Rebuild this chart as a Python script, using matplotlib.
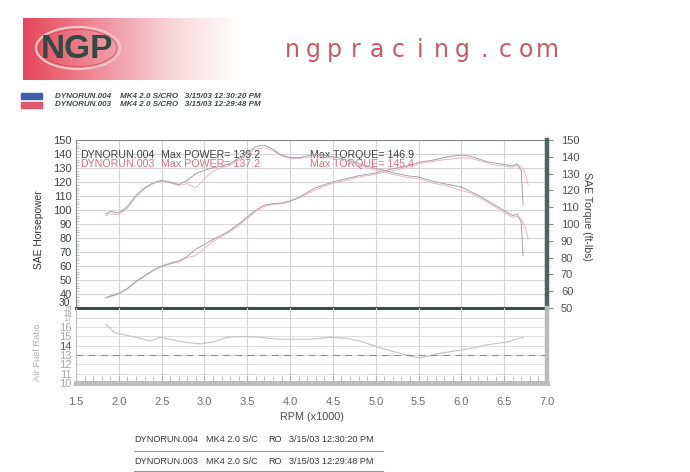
import numpy as np
import matplotlib
matplotlib.use("Agg")
import matplotlib.pyplot as plt
from matplotlib.colors import LinearSegmentedColormap
from matplotlib.patches import Ellipse, Rectangle

plt.rcParams['font.family'] = ['Liberation Sans', 'DejaVu Sans']

# run DYNORUN.004 (dark trace)
rpm_004 = [1.85, 1.9, 2.0, 2.1, 2.2, 2.3, 2.4, 2.5, 2.6, 2.7, 2.8, 2.9, 3.0, 3.1, 3.2, 3.3,
           3.4, 3.5, 3.6, 3.7, 3.8, 3.9, 4.0, 4.1, 4.2, 4.3, 4.4, 4.5, 4.6, 4.7, 4.8, 4.9,
           5.0, 5.1, 5.2, 5.3, 5.4, 5.5, 5.6, 5.7, 5.8, 5.9, 6.0, 6.1, 6.2, 6.3, 6.4, 6.5,
           6.6, 6.65, 6.7, 6.72]
hp_004 = [37.5, 38.5, 40.5, 44, 49, 53, 57, 60, 62, 63.5, 67, 72, 75.5, 79, 82, 85.5,
          90, 95, 100, 103.5, 104.5, 105, 106.5, 109, 112.5, 116, 118, 120, 121.5, 123, 124.5, 125.5,
          126.5, 128, 129.5, 130.5, 132, 134, 135, 136, 137.5, 138.5, 139.2, 138.5, 136.5, 134.5, 133.5, 132.5,
          131.5, 133, 128, 104]
tq_004 = [106, 107.5, 106.5, 110.5, 117, 121.5, 124.5, 126, 125, 123.5, 126, 130, 132, 133.5, 134.5, 136,
          139, 142.5, 146, 146.9, 144.5, 141, 139.5, 139.5, 140.5, 141.5, 141, 140, 139, 137.5, 136, 134.5,
          133, 132, 130.5, 129.5, 128.5, 128, 126.5, 125, 124, 123, 122, 119.5, 117, 114, 111, 108,
          105, 106, 101, 81]

# run DYNORUN.003 (pink trace)
rpm_003 = [1.85, 1.9, 2.0, 2.1, 2.2, 2.3, 2.4, 2.5, 2.6, 2.7, 2.8, 2.9, 3.0, 3.1, 3.2, 3.3,
           3.4, 3.5, 3.6, 3.7, 3.8, 3.9, 4.0, 4.1, 4.2, 4.3, 4.4, 4.5, 4.6, 4.7, 4.8, 4.9,
           5.0, 5.1, 5.2, 5.3, 5.4, 5.5, 5.6, 5.7, 5.8, 5.9, 6.0, 6.1, 6.2, 6.3, 6.4, 6.5,
           6.6, 6.65, 6.7, 6.74, 6.78]
hp_003 = [37, 38, 40, 43.5, 48.5, 52.5, 56.5, 59.5, 61.5, 63, 66, 67.5, 72.5, 77.5, 81, 84.5,
          89, 94, 99, 102.5, 104, 104.5, 106, 108.5, 111.5, 114.5, 117, 119, 120.5, 122, 123.5, 124.5,
          125.5, 127, 128, 129.5, 131, 133, 134, 135, 136, 136.5, 137.2, 137, 135.5, 133.5, 132, 131.5,
          130.5, 132, 131, 127, 118]
tq_003 = [105, 106, 105.5, 109.5, 116, 121, 124, 125.5, 124.5, 123, 124, 121.5, 127, 131.5, 133.5, 135,
          138, 141.5, 144.5, 145.4, 143.5, 140.5, 139, 139, 139.5, 140.5, 140, 139, 138, 136.5, 135, 133.5,
          132, 131, 129.5, 128.5, 127.5, 127, 125.5, 124, 123, 121.5, 120, 118.5, 116, 113, 110, 107,
          104, 104.5, 103, 99, 91]

# air fuel ratio
rpm_afr = [1.85, 1.95, 2.1, 2.25, 2.37, 2.48, 2.6, 2.75, 2.95, 3.1, 3.26, 3.45, 3.65, 3.85, 4.05, 4.25,
           4.47, 4.65, 4.82, 5.01, 5.15, 5.28, 5.4, 5.52, 5.62, 5.75, 5.98, 6.15, 6.3, 6.53, 6.72]
afr = [16.3, 15.4, 15.1, 14.8, 14.5, 14.9, 14.7, 14.4, 14.2, 14.4, 14.9, 15.0, 14.9, 14.7, 14.7, 14.7,
       14.9, 14.8, 14.5, 13.9, 13.5, 13.2, 12.9, 12.7, 12.9, 13.2, 13.5, 13.8, 14.1, 14.4, 14.9]
afr_ref = 13.0

rpm_ticks = [1.5, 2.0, 2.5, 3.0, 3.5, 4.0, 4.5, 5.0, 5.5, 6.0, 6.5, 7.0]
hp_ticks = list(range(40, 151, 10))
tq_ticks = list(range(50, 151, 10))

runs = ["DYNORUN.004", "DYNORUN.003"]
max_power = [139.2, 137.2]
max_torque = [146.9, 145.4]
car = "MK4 2.0 S/C"
stamps = ["3/15/03 12:30:20 PM", "3/15/03 12:29:48 PM"]

dark = "#9ea3a7"
pink = "#eab8bf"
dark_txt = "#3c4147"
pink_txt = "#d9707f"
grid_c = "#d4d4d4"

W, H = 690, 472
fig = plt.figure(figsize=(W / 100, H / 100), dpi=100)

# decoration layer in pixel coords
deco = fig.add_axes([0, 0, 1, 1], zorder=0)
deco.set_xlim(0, W)
deco.set_ylim(H, 0)
deco.axis("off")

# header banner
cm = LinearSegmentedColormap.from_list("banner", ["#e6465a", "#ef8a96", "#f8d2d6", "#ffffff"])
grad = np.linspace(0, 1, 256)[None, :]
deco.imshow(grad, extent=(23, 240, 80, 18), cmap=cm, aspect="auto", zorder=1)
deco.add_patch(Ellipse((78, 48), 84, 42, fill=False, ec="#f6c6cb", lw=1.6, zorder=2))
deco.add_patch(Ellipse((78, 48), 78, 37, fill=False, ec="#d8505f", lw=0.6, zorder=2))
deco.text(77, 49, "NGP", color="#2f4c41", fontsize=24, fontweight="bold",
          ha="center", va="center", zorder=3)
site = "ngpracing.com"
for i, ch in enumerate(site):
    deco.text(292 + i * 21.3, 50, ch, color="#c65a66", fontsize=17, ha="center",
              va="center", family="DejaVu Sans", zorder=3)

leg_cols = ["#3f5fae", "#e0566a"]
for i in range(2):
    deco.add_patch(Rectangle((21, 93 + i * 8.5), 21, 6, color=leg_cols[i], zorder=2))
    deco.text(55, 96.5 + i * 8.5, f"{runs[i]}    MK4 2.0 S/CRO   {stamps[i]}",
              color="#40464c", fontsize=5.8, fontweight="bold", fontstyle="italic",
              va="center", zorder=3)

# bottom table
for i in range(2):
    y = 440 + i * 22
    for x, s in zip([134, 206, 268, 289], [runs[i], car, "RO", stamps[i]]):
        deco.text(x, y, s, color="#3a3a3a", fontsize=6.6, va="center")
    deco.plot([134, 383], [y + 11 - i * 2, y + 11 - i * 2], color="#9a9a9a", lw=0.8)

# axes geometry
x0, x1 = 76 / W, 547 / W
ax = fig.add_axes([x0, 1 - 308 / H, x1 - x0, 168 / H], zorder=2)
ax2 = ax.twinx()
axa = fig.add_axes([x0, 1 - 383 / H, x1 - x0, 75 / H], zorder=2)
for a in (ax, axa):
    a.patch.set_alpha(0)

# power (left) and torque (right)
ax.plot(rpm_003, hp_003, color=pink, lw=0.7)
ax.plot(rpm_004, hp_004, color=dark, lw=0.7)
ax2.plot(rpm_003, tq_003, color=pink, lw=0.7)
ax2.plot(rpm_004, tq_004, color=dark, lw=0.7)

ax.set_xlim(1.5, 7.0)
ax.set_ylim(30, 150)
ax2.set_ylim(50, 150)
ax.set_xticks(rpm_ticks)
ax.set_yticks(hp_ticks)
ax2.set_yticks(tq_ticks)
ax.grid(True, color=grid_c, lw=0.8)
ax.set_axisbelow(True)
ax.tick_params(axis="x", length=0, labelbottom=False)
ax.tick_params(axis="y", length=0, labelsize=8, labelcolor=dark_txt, pad=3)
ax.set_yticks(np.arange(30, 151, 2), minor=True)
ax.tick_params(axis="y", which="minor", direction="in", length=2, color="#bbbbbb")
ax2.tick_params(axis="y", length=4, color="#888888", labelsize=8, labelcolor="#505050", pad=6)
ax2.set_yticks(np.arange(50, 151, 2), minor=True)
ax2.tick_params(axis="y", which="minor", direction="in", length=2, color="#bbbbbb")

for s in ("top", "left"):
    ax.spines[s].set_color("#8a8a8a")
    ax.spines[s].set_linewidth(0.8)
ax.spines["bottom"].set_color("#3e4c47")
ax.spines["bottom"].set_linewidth(2.2)
ax.spines["right"].set_visible(False)
ax2.spines["right"].set_color("#4b665b")
ax2.spines["right"].set_linewidth(3.2)
for s in ("top", "left", "bottom"):
    ax2.spines[s].set_visible(False)

# the bottom "30" label sits squeezed just under the 40 label, as on the sheet
ax.text(-0.012, 33.6, "30", transform=ax.get_yaxis_transform(), ha="right", va="center",
        fontsize=7.4, color=dark_txt)

# in-plot max readouts
def fx(px):
    return (px - 76) / 471

def fy(py):
    return (308 - py) / 168

for i, col in enumerate([dark_txt, pink_txt]):
    py = 155 + i * 8.5
    ax.text(fx(80), fy(py), runs[i], transform=ax.transAxes, color=col, fontsize=7.7, va="center")
    ax.text(fx(161), fy(py), f"Max POWER= {max_power[i]}", transform=ax.transAxes,
            color=col, fontsize=7.7, va="center")
    ax.text(fx(310), fy(py), f"Max TORQUE= {max_torque[i]}", transform=ax.transAxes,
            color=col, fontsize=7.7, va="center")

fig.text(39 / W, 1 - 230 / H, "SAE Horsepower", rotation=90, ha="center", va="center",
         fontsize=7.4, color="#333333")
fig.text(587 / W, 1 - 216 / H, "SAE Torque (ft-lbs)", rotation=270, ha="center", va="center",
         fontsize=7.6, color="#444444")

# air fuel ratio panel
axa.plot(rpm_afr, afr, color="#c2c2c2", lw=0.8)
axa.axhline(afr_ref, color="#8a8a8a", lw=0.8, ls=(0, (6, 5)))
axa.set_xlim(1.5, 7.0)
axa.set_ylim(10, 18.05)
axa.set_xticks(rpm_ticks)
axa.set_xticklabels([f"{v:.1f}" for v in rpm_ticks])
axa.set_xticks(np.arange(1.6, 7.0, 0.1), minor=True)
afr_tick_pos = [10, 11, 12, 13, 14, 15, 16, 16.95, 17.45, 17.95]
afr_tick_lab = ["10", "11", "12", "13", "14", "15", "16", "17", "18", "19"]
axa.set_yticks(afr_tick_pos)
axa.set_yticklabels(afr_tick_lab)
axa.get_yticklabels()[4].set_color("#555555")
axa.grid(True, axis="x", color=grid_c, lw=0.8)
for v in range(10, 18):
    axa.axhline(v, color="#dddddd", lw=0.7, zorder=0)
axa.tick_params(axis="y", length=0, labelsize=8, labelcolor="#a8a8a8", pad=3)
axa.get_yticklabels()[4].set_color("#555555")
for lab in axa.get_yticklabels()[7:]:
    lab.set_fontsize(5.4)
axa.tick_params(axis="x", which="both", direction="in", length=5, color="#b0b0b0",
                labelsize=8, labelcolor="#6a6a6a", pad=10)
axa.spines["top"].set_visible(False)
axa.spines["left"].set_color("#c0c0c0")
axa.spines["left"].set_linewidth(0.8)
axa.spines["bottom"].set_color("#bcbfbe")
axa.spines["bottom"].set_linewidth(3.6)
axa.spines["right"].set_color("#b8bdba")
axa.spines["right"].set_linewidth(3.2)
axa.set_xlabel("RPM (x1000)", fontsize=7.8, color="#4a4a4a", labelpad=1)
axa.xaxis.set_label_coords(0.5, -0.38)
fig.text(38 / W, 1 - 352 / H, "Air Fuel Ratio", rotation=90, ha="center", va="center",
         fontsize=6.8, color="#b0b0b0")

fig.savefig("out.png", dpi=100)
